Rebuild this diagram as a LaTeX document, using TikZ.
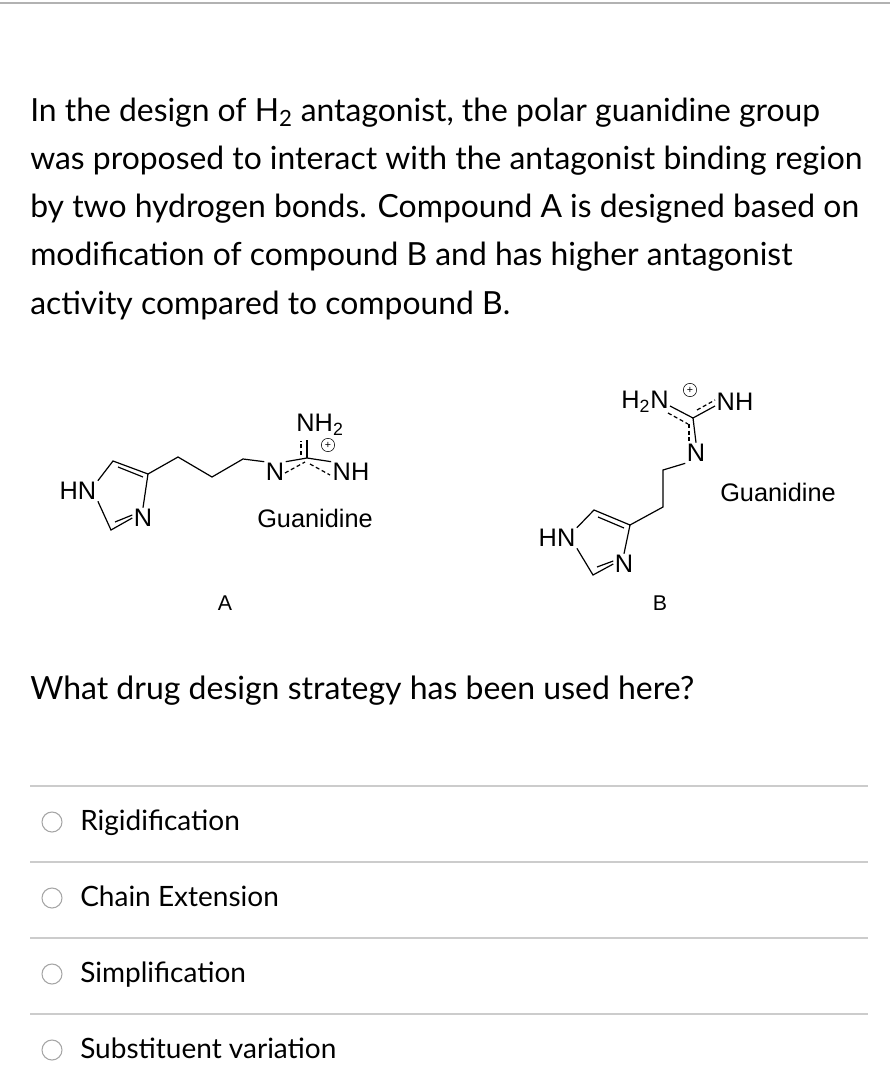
\documentclass[tikz,border=0pt]{standalone}
\usepackage{fontspec}
\setmainfont{Lato}
\newfontfamily\chem{Liberation Sans}
\begin{document}
\begin{tikzpicture}[x=0.75pt,y=-0.75pt,
  q/.style={anchor=base west,inner sep=0pt,font=\fontsize{23.9pt}{28pt}\selectfont},
  atm/.style={inner sep=1pt,font=\chem\fontsize{19pt}{22pt}\selectfont},
  bd/.style={line width=0.9pt},
  dsh/.style={line width=0.9pt,dash pattern=on 3pt off 2pt},
  sep/.style={draw=gray!40,line width=0.8pt},
  radio/.style={circle,draw=gray!70,line width=0.8pt,minimum size=15pt,inner sep=0pt}]
\useasboundingbox (0,0) rectangle (890,1084);
\draw[gray!60,line width=1pt] (0,3) -- (890,3);
\node[q] (l1) at (30,122) {In the design of H\textsubscript{2} antagonist, the polar guanidine group};
\node[q] (l2) at (30,170) {was proposed to interact with the antagonist binding region};
\node[q] (l3) at (30,218) {by two hydrogen bonds. Compound A is designed based on};
\node[q] (l4) at (30,266) {modification of compound B and has higher antagonist};
\node[q] (l5) at (30,314) {activity compared to compound B.};
% Compound A
\node[atm] (hnA) at (78,491) {HN};
\node[atm] (n3A) at (143,518) {N};
\coordinate (c5A) at (113,461);
\coordinate (c4A) at (148,474);
\coordinate (c2A) at (111,530);
\draw[bd] (hnA.north east) -- (c5A) -- (c4A) -- (n3A.north);
\draw[bd] (118,467) -- (143,477);
\draw[bd] (hnA.south east) -- (c2A) -- (n3A.west);
\draw[bd] (115,522) -- (n3A.west |- 0,515);
\coordinate (a1) at (178,457);
\coordinate (a2) at (212,477);
\coordinate (a3) at (243,459);
\node[atm] (nA) at (275,472) {N};
\coordinate (cgA) at (307,458);
\node[atm] (nh2A) at (320,425) {NH\textsubscript{2}};
\node[atm] (nhA) at (351,472) {NH};
\draw[bd] (c4A) -- (a1) -- (a2) -- (a3) -- (nA.north west);
\draw[bd] (nA.north east) -- (cgA) -- (nhA.north west);
\draw[dsh] (285,473) -- (305,462);
\draw[dsh] (310,464) -- (330,475);
\draw[bd] (cgA) -- (307,440);
\draw[dsh] (301,455) -- (301,441);
\node[circle,draw,inner sep=0pt,minimum size=10pt,font=\chem\fontsize{8pt}{8pt}\selectfont] (pA) at (328,445) {+};
\node[atm] (gA) at (315,518) {Guanidine};
\node[atm,font=\chem\fontsize{16pt}{18pt}\selectfont] (labA) at (225,603) {A};
% Compound B
\node[atm] (h2nB) at (645,402) {H\textsubscript{2}N};
\node[atm] (nhB) at (735,402) {NH};
\coordinate (cgB) at (693,418);
\node[atm] (nB) at (696,453) {N};
\draw[bd] (670,406) -- (cgB) -- (715,406);
\draw[dsh] (668,413) -- (688,424);
\draw[dsh] (697,410) -- (715,400);
\draw[bd] (cgB) -- (nB.north);
\draw[dsh] (689,424) -- (689,442);
\node[circle,draw,inner sep=0pt,minimum size=10pt,font=\chem\fontsize{8pt}{8pt}\selectfont] (pB) at (690,390) {+};
\coordinate (b1) at (663,470);
\coordinate (b2) at (663,507);
\coordinate (c4B) at (630,525);
\draw[bd] (nB.south west) -- (b1) -- (b2) -- (c4B);
\node[atm] (hnB) at (557,538) {HN};
\node[atm] (n3B) at (624,564) {N};
\coordinate (c5B) at (594,510);
\coordinate (c2B) at (593,575);
\draw[bd] (hnB.north east) -- (c5B) -- (c4B) -- (n3B.north);
\draw[bd] (598,517) -- (624,528);
\draw[bd] (hnB.south east) -- (c2B) -- (n3B.west);
\draw[bd] (597,567) -- (n3B.west |- 0,561);
\node[atm] (gB) at (778,492) {Guanidine};
\node[atm,font=\chem\fontsize{16pt}{18pt}\selectfont] (labB) at (660,603) {B};
% Question
\node[q,font=\fontsize{24pt}{28pt}\selectfont] (qq) at (30,699) {What drug design strategy has been used here?};
\foreach \y/\t [count=\i] in {822/Rigidification,898/Chain Extension,974/Simplification,1050/Substituent variation}{
  \draw[sep] (30,\y-36) -- (868,\y-36);
  \node[radio] (r\i) at (52,\y) {};
  \node[q,font=\fontsize{21pt}{24pt}\selectfont] (o\i) at (80,\y+8) {\t};
}
\end{tikzpicture}
\end{document}
